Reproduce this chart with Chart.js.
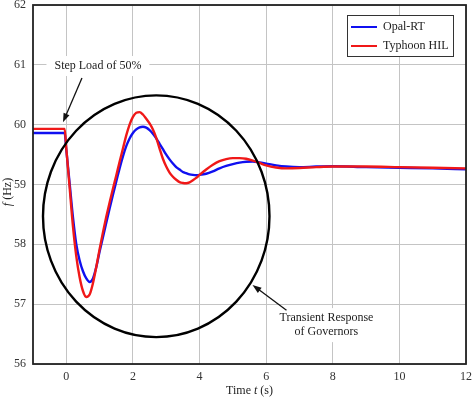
<!DOCTYPE html>
<html>
<head>
<meta charset="utf-8">
<script src="https://cdn.jsdelivr.net/npm/chart.js@4.4.1/dist/chart.umd.min.js"></script>
<style>
  html, body { margin: 0; padding: 0; background: #fff; }
  #freqChart { display: block; }
</style>
</head>
<body>
<canvas id="freqChart" width="474" height="399"></canvas>
<script>
// time (s) and frequency (Hz)
const timeS = [-1, -0.5, -0.05,
  0, 0.1, 0.2, 0.3, 0.4, 0.5, 0.6, 0.7, 0.8, 0.9,
  1.0, 1.1, 1.2, 1.3, 1.4, 1.5, 1.6, 1.7, 1.8, 1.9,
  2.0, 2.1, 2.2, 2.3, 2.4, 2.5, 2.6, 2.7, 2.8, 2.9,
  3.0, 3.1, 3.2, 3.3, 3.4, 3.5, 3.6, 3.7, 3.8, 3.9,
  4.0, 4.2, 4.4, 4.6, 4.8, 5.0, 5.2, 5.4, 5.6, 5.8, 6.0,
  6.3, 6.6, 7.0, 7.5, 8, 9, 10, 11, 12];

const opalRT = [59.86, 59.86, 59.86,
  59.58, 59.02, 58.45, 58.0, 57.73, 57.55, 57.43, 57.37, 57.43, 57.62,
  57.88, 58.12, 58.36, 58.6, 58.83, 59.05, 59.27, 59.47, 59.64, 59.77,
  59.86, 59.92, 59.955, 59.965, 59.95, 59.91, 59.85, 59.77, 59.68, 59.59,
  59.5, 59.42, 59.35, 59.29, 59.25, 59.21, 59.19, 59.17, 59.16, 59.155,
  59.16, 59.18, 59.22, 59.27, 59.31, 59.34, 59.365, 59.38, 59.385, 59.37, 59.35,
  59.32, 59.3, 59.29, 59.3, 59.305, 59.29, 59.28, 59.27, 59.255];

const typhoonHIL = [59.93, 59.93, 59.93,
  59.6, 58.95, 58.3, 57.8, 57.45, 57.22, 57.12, 57.16, 57.35, 57.62,
  57.92, 58.2, 58.46, 58.7, 58.93, 59.15, 59.38, 59.6, 59.82, 60.0,
  60.13, 60.2, 60.21, 60.17, 60.1, 60.02, 59.92, 59.78, 59.6, 59.43,
  59.3, 59.2, 59.13, 59.08, 59.04, 59.025, 59.02, 59.035, 59.07, 59.11,
  59.16, 59.25, 59.33, 59.39, 59.425, 59.44, 59.44, 59.43, 59.4, 59.36, 59.32,
  59.285, 59.27, 59.275, 59.29, 59.3, 59.3, 59.29, 59.28, 59.27];

const seriesNames = ["Opal-RT", "Typhoon HIL"];
const xTicks = [0, 2, 4, 6, 8, 10, 12];
const yTicks = [56, 57, 58, 59, 60, 61, 62];

// annotations in data units
const ring = { t: 2.70, f: 58.47, rt: 3.40, rf: 2.02 };
const stepNote = { text: ["Step Load of 50%"], t: 0.95, f: 60.98, from: [0.47, 60.78], to: [-0.10, 60.04] };
const govNote = { text: ["Transient Response", "of Governors"], t: 7.81, f: 56.65, from: [6.61, 56.90], to: [5.59, 57.32] };

const SERIF = '"Liberation Serif", "Times New Roman", serif';

function arrow(ctx, x1, y1, x2, y2) {
    const a = Math.atan2(y2 - y1, x2 - x1);
    ctx.beginPath();
    ctx.moveTo(x1, y1);
    ctx.lineTo(x2 - 6 * Math.cos(a), y2 - 6 * Math.sin(a));
    ctx.stroke();
    ctx.beginPath();
    ctx.moveTo(x2, y2);
    ctx.lineTo(x2 - 9 * Math.cos(a) + 3.2 * Math.sin(a), y2 - 9 * Math.sin(a) - 3.2 * Math.cos(a));
    ctx.lineTo(x2 - 9 * Math.cos(a) - 3.2 * Math.sin(a), y2 - 9 * Math.sin(a) + 3.2 * Math.cos(a));
    ctx.closePath();
    ctx.fill();
}

function note(ctx, xs, ys, n) {
    const cx = xs.getPixelForValue(n.t), cy = ys.getPixelForValue(n.f);
    const lh = 14;
    ctx.font = "12px " + SERIF;
    const w = Math.max(...n.text.map(s => ctx.measureText(s).width));
    const h = lh * n.text.length;
    ctx.fillStyle = "#fff";
    ctx.fillRect(cx - w / 2 - 8, cy - h / 2 - 3, w + 16, h + 6);
    ctx.fillStyle = "#222";
    ctx.textAlign = "center";
    ctx.textBaseline = "middle";
    n.text.forEach((s, i) => ctx.fillText(s, cx, cy - h / 2 + lh * (i + 0.5)));
    ctx.strokeStyle = "#111";
    ctx.fillStyle = "#111";
    ctx.lineWidth = 1.3;
    arrow(ctx, xs.getPixelForValue(n.from[0]), ys.getPixelForValue(n.from[1]),
        xs.getPixelForValue(n.to[0]), ys.getPixelForValue(n.to[1]));
}

// mixed italic / upright label
function richText(ctx, parts, x, y) {
    let total = 0;
    parts.forEach(p => { ctx.font = (p.i ? "italic " : "") + "12px " + SERIF; total += ctx.measureText(p.s).width; });
    let cur = x - total / 2;
    ctx.textAlign = "left";
    parts.forEach(p => {
        ctx.font = (p.i ? "italic " : "") + "12px " + SERIF;
        ctx.fillText(p.s, cur, y);
        cur += ctx.measureText(p.s).width;
    });
}

const decorations = {
    id: "decorations",
    afterDatasetsDraw(chart) {
        const { ctx, chartArea: a, scales } = chart;
        const xs = scales.x, ys = scales.y;
        ctx.save();

        note(ctx, xs, ys, stepNote);
        note(ctx, xs, ys, govNote);

        // circle around the transient
        ctx.beginPath();
        ctx.ellipse(xs.getPixelForValue(ring.t), ys.getPixelForValue(ring.f),
            Math.abs(xs.getPixelForValue(ring.t + ring.rt) - xs.getPixelForValue(ring.t)),
            Math.abs(ys.getPixelForValue(ring.f + ring.rf) - ys.getPixelForValue(ring.f)),
            0, 0, Math.PI * 2);
        ctx.strokeStyle = "#000";
        ctx.lineWidth = 2.4;
        ctx.stroke();

        // legend box
        const bx = a.right - 119, by = a.top + 10, bw = 106, bh = 41;
        ctx.fillStyle = "#fff";
        ctx.fillRect(bx, by, bw, bh);
        ctx.strokeStyle = "#333";
        ctx.lineWidth = 1;
        ctx.strokeRect(bx + 0.5, by + 0.5, bw, bh);
        chart.data.datasets.forEach((ds, i) => {
            const y = by + 12 + i * 19;
            ctx.strokeStyle = ds.borderColor;
            ctx.lineWidth = 2;
            ctx.beginPath();
            ctx.moveTo(bx + 4, y);
            ctx.lineTo(bx + 30, y);
            ctx.stroke();
            ctx.fillStyle = "#222";
            ctx.font = "12px " + SERIF;
            ctx.textAlign = "left";
            ctx.textBaseline = "middle";
            ctx.fillText(ds.label, bx + 36, y);
        });

        // frame
        ctx.strokeStyle = "#222";
        ctx.lineWidth = 1.8;
        ctx.strokeRect(a.left, a.top, a.right - a.left, a.bottom - a.top);

        // axis titles
        ctx.fillStyle = "#222";
        ctx.textBaseline = "middle";
        richText(ctx, [{ s: "Time " }, { s: "t", i: true }, { s: " (s)" }], (a.left + a.right) / 2, 391);
        ctx.translate(8, 192);
        ctx.rotate(-Math.PI / 2);
        richText(ctx, [{ s: "f", i: true }, { s: " (Hz)" }], 0, 0);
        ctx.restore();
    }
};

const ctx = document.getElementById("freqChart").getContext("2d");

new Chart(ctx, {
    type: "line",
    data: {
        datasets: [
            {
                label: seriesNames[0],
                data: timeS.map((t, i) => ({ x: t, y: opalRT[i] })),
                borderColor: "#1010f0",
                borderWidth: 2.4,
                order: 1
            },
            {
                label: seriesNames[1],
                data: timeS.map((t, i) => ({ x: t, y: typhoonHIL[i] })),
                borderColor: "#f01818",
                borderWidth: 2.4,
                order: 0
            }
        ]
    },
    options: {
        responsive: false,
        animation: false,
        devicePixelRatio: 1,
        layout: { padding: { top: 5, right: 8, left: 0, bottom: 0 } },
        elements: {
            point: { radius: 0 },
            line: { cubicInterpolationMode: "monotone", fill: false }
        },
        plugins: {
            legend: { display: false },
            tooltip: { enabled: false }
        },
        scales: {
            x: {
                type: "linear",
                min: -1,
                max: 12,
                afterBuildTicks: s => { s.ticks = xTicks.map(v => ({ value: v })); },
                afterFit: s => { s.height = 35; s.paddingLeft = 0; s.paddingRight = 0; },
                grid: { color: "#c4c4c4", lineWidth: 1, drawTicks: false },
                border: { display: false },
                ticks: { padding: 6, color: "#333", font: { family: SERIF, size: 12 }, maxRotation: 0 }
            },
            y: {
                min: 56,
                max: 62,
                afterBuildTicks: s => { s.ticks = yTicks.map(v => ({ value: v })); },
                afterFit: s => { s.width = 33; s.paddingTop = 0; s.paddingBottom = 0; },
                grid: { color: "#c4c4c4", lineWidth: 1, drawTicks: false },
                border: { display: false },
                ticks: { padding: 7, color: "#333", font: { family: SERIF, size: 12 } }
            }
        }
    },
    plugins: [decorations]
});
</script>
</body>
</html>
